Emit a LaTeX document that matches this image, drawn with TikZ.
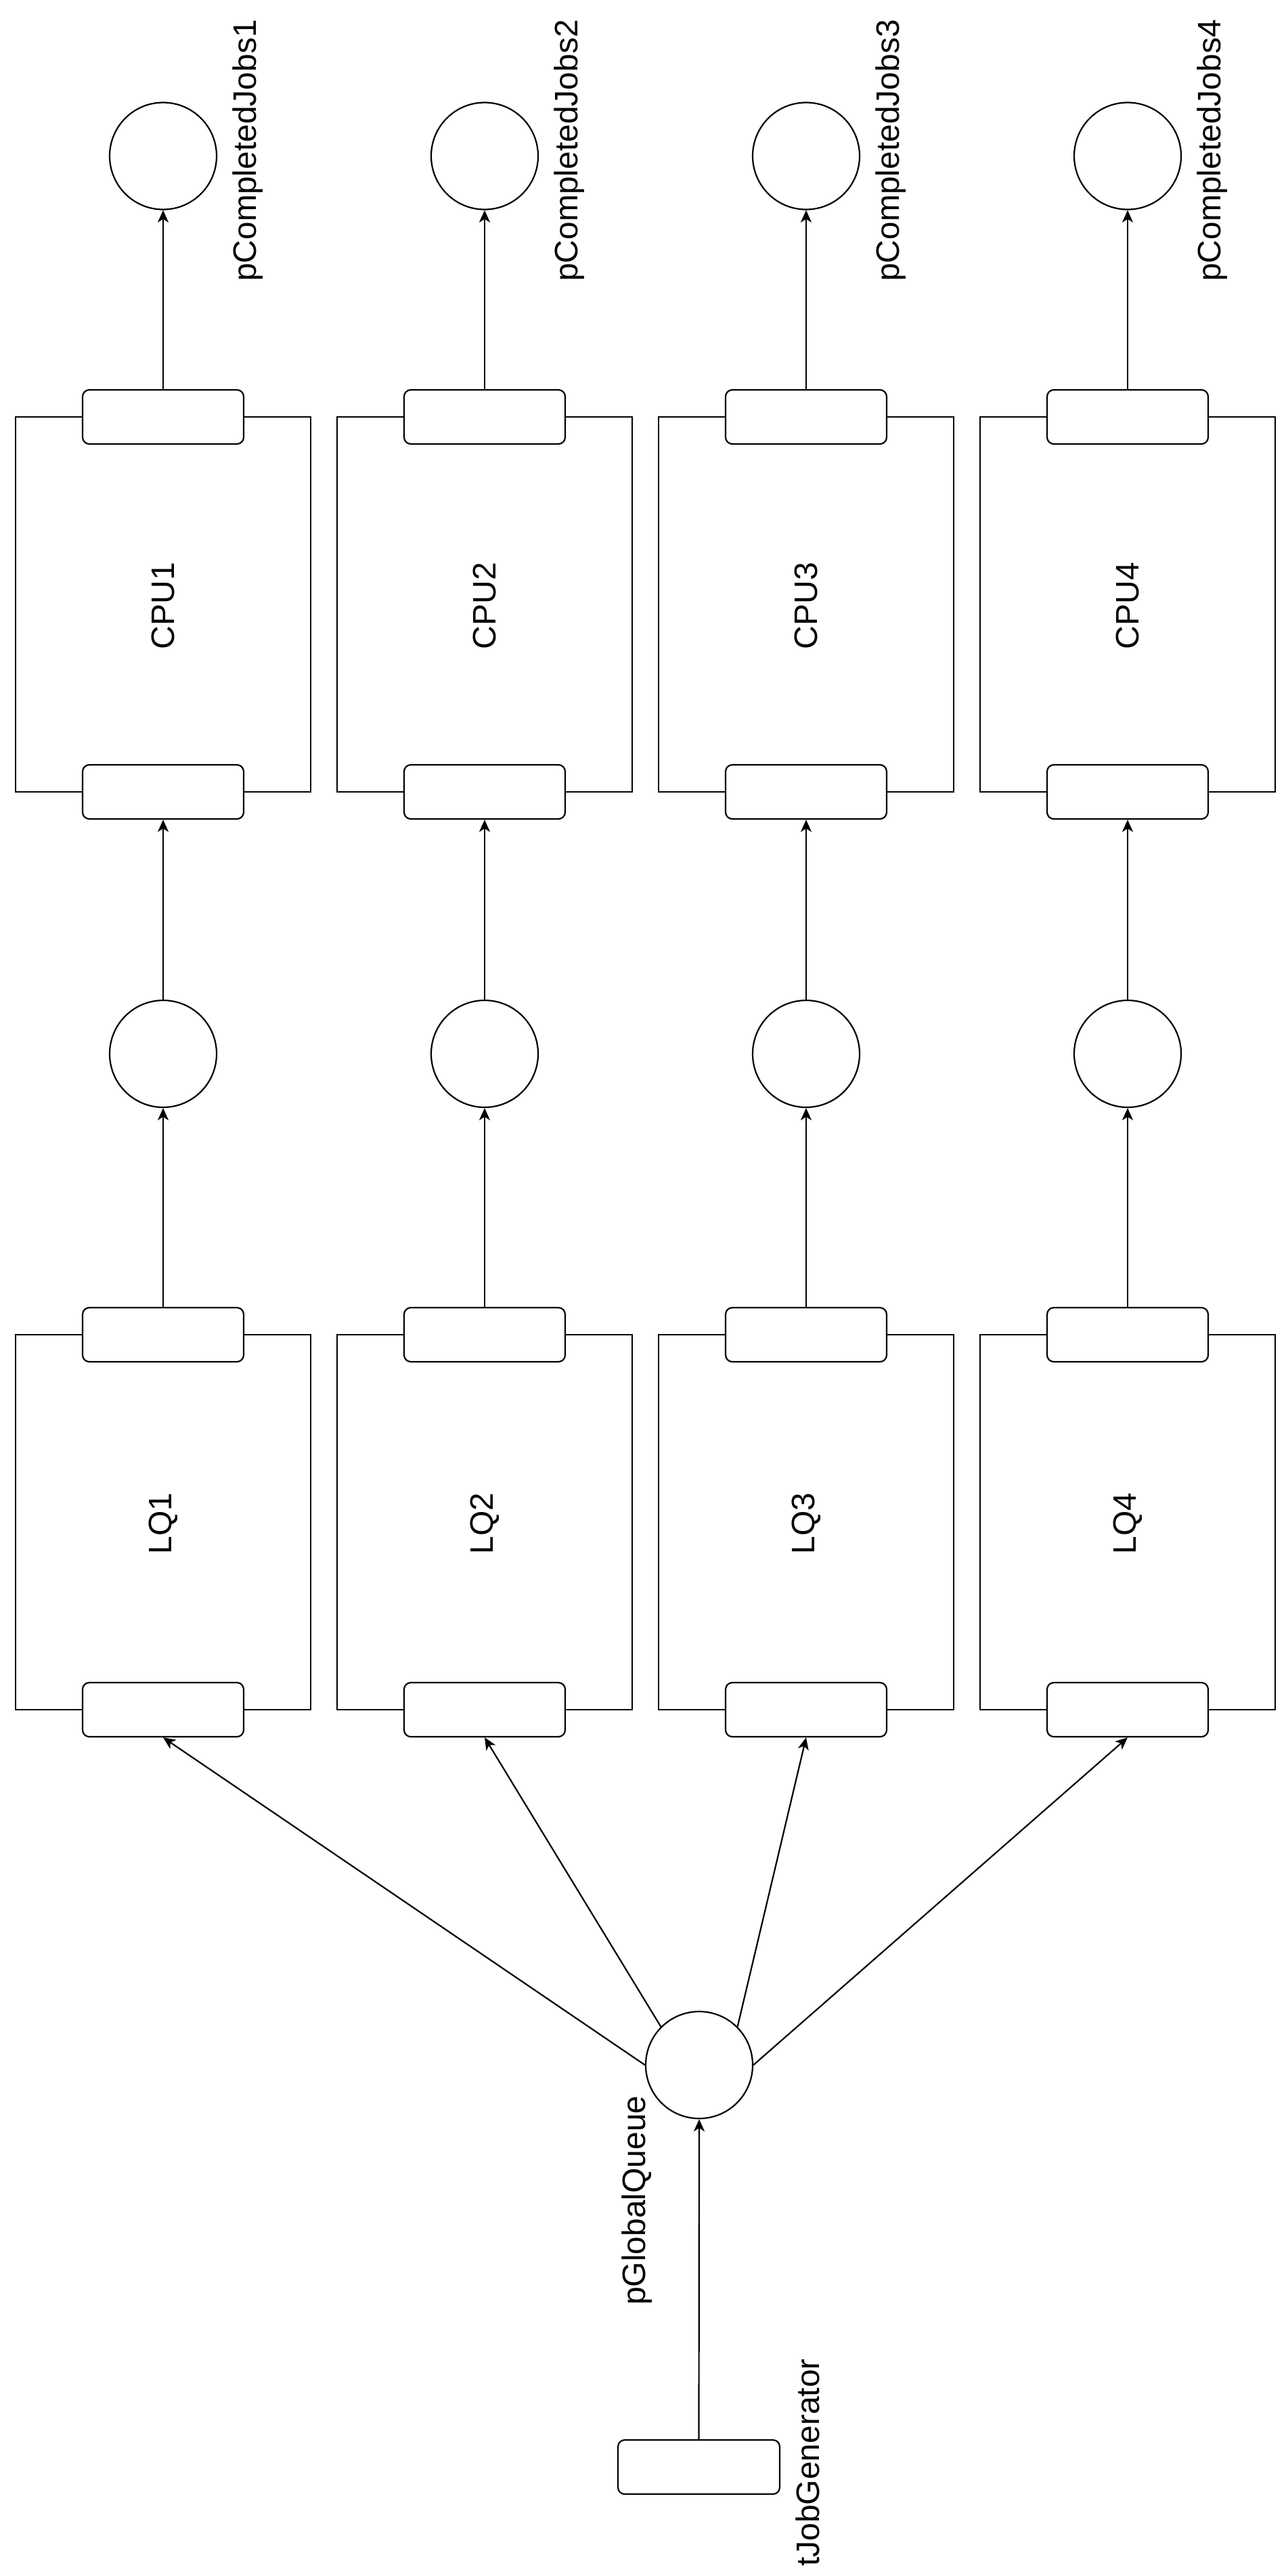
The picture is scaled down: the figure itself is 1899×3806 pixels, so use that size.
\documentclass[tikz,border=0pt]{standalone}
\usepackage{fontspec}
\setmainfont{Liberation Sans}
\usetikzlibrary{arrows.meta}
\begin{document}
\begin{tikzpicture}[x=1pt,y=-1pt, line width=2.2pt,
  place/.style={circle, draw, minimum size=158pt, inner sep=0pt},
  port/.style={rectangle, draw, fill=white, rounded corners=10pt, minimum width=238pt, minimum height=80pt, inner sep=0pt},
  unitbox/.style={rectangle, draw, minimum width=436pt, minimum height=554pt, inner sep=0pt},
  lbl/.style={font=\fontsize{48}{58}\selectfont, inner sep=0pt, rotate=90},
  arr/.style={-{Stealth[length=18pt,width=16pt,inset=5pt]}}]
\useasboundingbox (0,0) rectangle (1899,3806);
\foreach \i/\x in {1/241,2/716,3/1191,4/1666}{
  \node[place] (done\i) at (\x,230.5) {};
  \node[lbl, anchor=base west] (donelbl\i) at (\x+137,417) {pCompletedJobs\i};
  \node[unitbox] (cpu\i) at (\x,893) {};
  \node[lbl] (cpulbl\i) at (\x,895) {CPU\i};
  \node[port] (cpuout\i) at (\x,616) {};
  \node[port] (cpuin\i) at (\x,1170) {};
  \node[place] (mid\i) at (\x,1557) {};
  \node[unitbox] (lq\i) at (\x,2249) {};
  \node[lbl] (lqlbl\i) at (\x,2251) {LQ\i};
  \node[port] (lqout\i) at (\x,1972) {};
  \node[port] (lqin\i) at (\x,2526) {};
  \draw[arr] (cpuout\i.north) -- (done\i.south);
  \draw[arr] (mid\i.north) -- (cpuin\i.south);
  \draw[arr] (lqout\i.north) -- (mid\i.south);
}
\node[place] (gq) at (1033,3051) {};
\node[lbl, anchor=base west] (gqlbl) at (953,3407) {pGlobalQueue};
\node[port, minimum width=239pt] (gen) at (1032.5,3645) {};
\node[lbl, anchor=base west] (genlbl) at (1210,3793) {tJobGenerator};
\draw[arr] (gen.north) -- (gq.south);
\draw[arr] (gq.west) -- (lqin1.south);
\draw[arr] (gq.north west) -- (lqin2.south);
\draw[arr] (gq.north east) -- (lqin3.south);
\draw[arr] (gq.east) -- (lqin4.south);
\end{tikzpicture}
\end{document}
